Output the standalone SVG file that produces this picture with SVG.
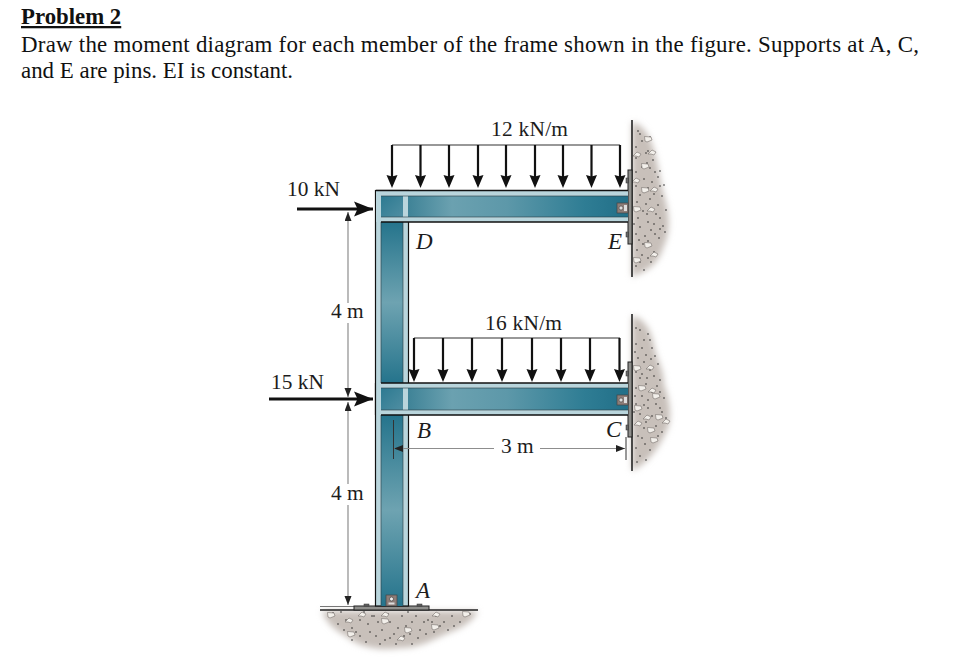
<svg xmlns="http://www.w3.org/2000/svg" width="960" height="670" viewBox="0 0 960 670">
<style>
text{font-family:"Liberation Serif","Times New Roman",serif;fill:#1c1c1c}
.body{font-size:22.9px;fill:#111}
.lab{font-size:21.4px}
.it{font-size:23px;font-style:italic}
.load{fill:none;stroke:#111;stroke-width:2.2}
.bar{fill:none;stroke:#333;stroke-width:1.2}
.dim{fill:none;stroke:#8d8d8d;stroke-width:1.2}
.tick{fill:none;stroke:#333;stroke-width:1}
.frame{fill:none;stroke:#111;stroke-width:1.6}
.soil{fill:#c8c0ba;filter:url(#soft)}
.dots{fill:none;stroke:#1d1d1d;stroke-width:1.5;stroke-linecap:round}
.peb{fill:#f2efea;stroke:#77716d;stroke-width:.6}
.plate{fill:#8f8f8c;stroke:#222;stroke-width:1}
.bolt{fill:#666;stroke:#333;stroke-width:.5}
.clip{fill:#8d7d78;stroke:#444;stroke-width:.7}
.wall{stroke:#222;stroke-width:1.6;fill:none}
</style>
<defs>
<filter id="soft" x="-20%" y="-20%" width="140%" height="140%"><feGaussianBlur stdDeviation="3"/></filter>
<linearGradient id="beam" x1="0" x2="1" y1="0" y2="0"><stop offset="0" stop-color="#3f8397"/><stop offset=".2" stop-color="#6ba1b0"/><stop offset=".45" stop-color="#5d98a9"/><stop offset=".8" stop-color="#2f7d94"/><stop offset="1" stop-color="#216f88"/></linearGradient>
<linearGradient id="colu" x1="0" x2="0" y1="0" y2="1"><stop offset="0" stop-color="#25748c"/><stop offset=".5" stop-color="#6ea3b1"/><stop offset="1" stop-color="#25748c"/></linearGradient>
<linearGradient id="joint" x1="0" x2="1" y1="0" y2="1"><stop offset="0" stop-color="#2d7a91"/><stop offset="1" stop-color="#4f8ea2"/></linearGradient>
<marker id="big" markerUnits="userSpaceOnUse" markerWidth="20" markerHeight="18" refX="19" refY="8" orient="auto"><path d="M0 0.500L19 8L0 15.500L3.500 8Z" fill="#111"/></marker>
<marker id="thin" markerUnits="userSpaceOnUse" markerWidth="10" markerHeight="8" refX="9" refY="3.500" orient="auto-start-reverse"><path d="M0 0L9 3.500L0 7Z" fill="#222"/></marker>
<path id="hd" d="M-5.500 -13L0 0L5.500 -13L0 -11.500Z" fill="#111"/>
<path id="pb" class="peb" d="M-3.500 -2.500L3 -2L4 1L-1 3L-3 2Z"/>
<path id="pc" class="peb" d="M-4 1L0 -3L4 -1L2 2L-1 1Z"/>
</defs>

<g id="title">
<text x="21" y="24" style="font-size:22.8px;font-weight:bold;fill:#111;text-decoration:underline">Problem 2</text>
<text class="body" x="21" y="52" textLength="898" lengthAdjust="spacing">Draw the moment diagram for each member of the frame shown in the figure. Supports at A, C,</text>
<text class="body" x="21" y="78">and E are pins. EI is constant.</text>
</g>

<g id="wall-E">
<path class="soil" d="M632 122C645 125 652 140 656 158C659 170 660 180 664 195C670 215 671 232 663 248C659 262 650 270 632 277Z"/>
<path class="dots" d="M638 131h0M640 134h0M650 137h0M648 151h0M646 153h0M636 158h0M653 160h0M647 163h0M642 167h0M650 168h0M636 172h0M655 172h0M658 177h0M644 179h0M660 171h0M652 182h0M636 186h0M648 188h0M660 186h0M640 195h0M654 194h0M664 185h0M637 202h0M646 204h0M658 205h0M662 196h0M643 211h0M652 210h0M666 210h0M638 218h0M660 218h0M648 222h0M654 224h0M640 227h0M663 226h0M665 232h0M636 234h0M645 236h0M655 234h0M643 244h0M650 246h0M659 238h0M637 250h0M654 252h0M648 258h0M640 262h0M636 266h0M644 270h0M651 262h0M642 141h0M636 147h0M644 192h0M650 199h0M635 208h0M647 214h0M656 214h0M634 224h0M651 230h0M660 229h0M639 240h0M648 241h0M642 255h0"/>
<use href="#pb" x="648" y="139"/><use href="#pc" x="637" y="155"/><use href="#pb" x="645" y="166"/><use href="#pc" x="652" y="153"/><use href="#pc" x="636" y="181"/><use href="#pb" x="645" y="190"/><use href="#pc" x="654" y="190"/><use href="#pb" x="637" y="209"/><use href="#pc" x="651" y="210"/><use href="#pb" x="648" y="245"/><use href="#pc" x="654" y="255"/><use href="#pb" x="637" y="260"/>
<line class="wall" x1="632" y1="120" x2="632" y2="277"/>
<rect class="plate" x="628" y="170" width="4" height="74"/>
<rect class="bolt" x="626" y="178" width="2.500" height="5"/><rect class="bolt" x="626" y="232" width="2.500" height="5"/>
</g>

<g id="wall-C">
<path class="soil" d="M632 316C645 318 652 332 655 350C658 362 664 370 664 385C670 400 673 420 666 432C660 445 650 462 632 471Z"/>
<path class="dots" d="M636 328h0M640 330h0M648 334h0M650 340h0M636 344h0M642 348h0M652 348h0M646 355h0M638 358h0M655 356h0M644 362h0M658 364h0M636 372h0M650 370h0M640 378h0M654 376h0M660 380h0M646 384h0M636 388h0M660 392h0M652 392h0M642 396h0M664 398h0M636 404h0M656 404h0M648 408h0M662 412h0M640 414h0M652 416h0M666 418h0M636 424h0M656 426h0M644 428h0M650 432h0M662 432h0M638 436h0M654 440h0M645 444h0M636 448h0M650 450h0M640 456h0M646 460h0M637 462h0M644 340h0M635 352h0M651 359h0M642 374h0M647 378h0M657 386h0M635 396h0M648 400h0M644 405h0M660 408h0M634 412h0M646 422h0M658 436h0M642 438h0"/>
<use href="#pb" x="637" y="368"/><use href="#pc" x="650" y="368"/><use href="#pb" x="642" y="388"/><use href="#pc" x="652" y="391"/><use href="#pb" x="656" y="396"/><use href="#pb" x="638" y="408"/><use href="#pc" x="647" y="418"/><use href="#pb" x="659" y="417"/><use href="#pc" x="666" y="422"/><use href="#pc" x="638" y="424"/><use href="#pb" x="651" y="430"/><use href="#pb" x="654" y="440"/>
<line class="wall" x1="632" y1="314" x2="632" y2="471"/>
<rect class="plate" x="628" y="362" width="4" height="75"/>
<rect class="bolt" x="626" y="371" width="2.500" height="5"/><rect class="bolt" x="626" y="425" width="2.500" height="5"/>
</g>

<g id="ground-A">
<path class="soil" d="M322 611L478 611C472 622 462 628 448 633C432 640 420 648 400 648C380 651 360 648 346 636C334 630 326 622 322 611Z"/>
<path class="dots" d="M333 613h0M341 612h0M346 620h0M338 624h0M352 628h0M360 620h0M368 624h0M374 616h0M382 630h0M390 622h0M398 628h0M402 616h0M412 622h0M420 630h0M428 620h0M436 616h0M444 622h0M452 616h0M460 622h0M448 630h0M434 632h0M418 638h0M404 636h0M390 638h0M376 636h0M360 636h0M366 642h0M352 640h0M380 644h0M396 644h0M412 644h0M424 622h0M364 612h0M388 614h0M408 612h0M470 614h0M344 630h0M370 632h0M378 622h0M394 634h0M406 626h0M416 616h0M426 634h0M440 626h0M454 626h0M385 640h0M356 632h0M372 616h0M432 622h0M410 634h0"/>
<use href="#pb" x="331" y="615"/><use href="#pc" x="362" y="615"/><use href="#pb" x="385" y="621"/><use href="#pc" x="349" y="621"/><use href="#pb" x="351" y="634"/><use href="#pc" x="385" y="615"/><use href="#pb" x="408" y="630"/><use href="#pc" x="436" y="615"/><use href="#pb" x="466" y="614"/><use href="#pc" x="401" y="639"/><use href="#pb" x="435" y="627"/>
<line x1="320" y1="610" x2="478" y2="610" stroke="#222" stroke-width="1.400"/>
<line x1="320" y1="606.500" x2="355" y2="606.500" stroke="#777" stroke-width="1"/>
<rect class="plate" x="354" y="606" width="75" height="4"/>
<rect class="bolt" x="364" y="604" width="5" height="2"/><rect class="bolt" x="417" y="604" width="5" height="2"/>
</g>

<g id="column">
<rect x="375.500" y="190.500" width="33" height="415.500" fill="#b9d5dc" stroke="#111" stroke-width="1.200"/>
<rect x="381" y="222" width="22" height="161" fill="url(#colu)"/>
<rect x="381" y="415" width="22" height="191" fill="url(#colu)"/>
<line x1="381" y1="191" x2="381" y2="606" stroke="#2a3a40" stroke-width=".6"/>
<line x1="403" y1="222" x2="403" y2="606" stroke="#2a3a40" stroke-width=".6"/>
<rect class="clip" x="386" y="595" width="11" height="11"/>
<circle cx="391.500" cy="599" r="2" fill="#eee" stroke="#333" stroke-width=".6"/>
<rect x="388.500" y="602.500" width="6" height="2" fill="#ddd"/>
</g>

<g id="beam-DE">
<rect x="376" y="190.500" width="252" height="31.500" fill="#b9d5dc"/>
<rect x="381" y="196" width="22" height="21" fill="url(#joint)"/>
<rect x="408" y="196" width="220" height="21" fill="url(#beam)"/>
<path class="frame" d="M376 190.500H628M381 222H628"/>
<line x1="381" y1="196" x2="628" y2="196" stroke="#2a3a40" stroke-width=".6"/>
<line x1="381" y1="217" x2="628" y2="217" stroke="#2a3a40" stroke-width=".6"/>
<rect class="clip" x="617" y="203" width="11" height="10"/>
<circle cx="621" cy="208" r="2" fill="#ddd" stroke="#333" stroke-width=".5"/>
<rect x="624" y="205" width="3" height="6" fill="#ddd"/>
</g>

<g id="beam-BC">
<rect x="376" y="383" width="252" height="32" fill="#b9d5dc"/>
<rect x="381" y="388" width="22" height="22" fill="url(#joint)"/>
<rect x="408" y="388" width="220" height="22" fill="url(#beam)"/>
<path class="frame" d="M381 383H628M381 415H628"/>
<line x1="381" y1="388" x2="628" y2="388" stroke="#2a3a40" stroke-width=".6"/>
<line x1="381" y1="410" x2="628" y2="410" stroke="#2a3a40" stroke-width=".6"/>
<rect class="clip" x="617" y="395" width="11" height="10"/>
<circle cx="621" cy="400" r="2" fill="#ddd" stroke="#333" stroke-width=".5"/>
<rect x="624" y="397" width="3" height="6" fill="#ddd"/>
<line x1="375.500" y1="383" x2="375.500" y2="415" stroke="#111" stroke-width="1.200"/>
</g>

<g id="connectors">
<g id="load-12">
<path class="bar" d="M392 145H620"/>
<path class="load" d="M392 145V178M420.500 145V178M449 145V178M478 145V178M506 145V178M535 145V178M563 145V178M591.500 145V178M620 145V178"/>
<use href="#hd" x="392" y="188"/><use href="#hd" x="420.500" y="188"/><use href="#hd" x="449" y="188"/><use href="#hd" x="478" y="188"/><use href="#hd" x="506" y="188"/><use href="#hd" x="535" y="188"/><use href="#hd" x="563" y="188"/><use href="#hd" x="591.500" y="188"/><use href="#hd" x="620" y="188"/>
</g>
<g id="load-16">
<path class="bar" d="M414 338H620"/>
<path class="load" d="M414 338V372M443 338V372M472 338V372M502 338V372M532 338V372M561 338V372M590 338V372M619.500 338V372"/>
<use href="#hd" x="414" y="382"/><use href="#hd" x="443" y="382"/><use href="#hd" x="472" y="382"/><use href="#hd" x="502" y="382"/><use href="#hd" x="532" y="382"/><use href="#hd" x="561" y="382"/><use href="#hd" x="590" y="382"/><use href="#hd" x="619.500" y="382"/>
</g>
<line x1="297" y1="209" x2="373" y2="209" stroke="#111" stroke-width="3.200" marker-end="url(#big)"/>
<line x1="269" y1="399" x2="373" y2="399" stroke="#111" stroke-width="3.200" marker-end="url(#big)"/>
<line class="dim" x1="348" y1="303" x2="348" y2="212" marker-end="url(#thin)"/>
<line class="dim" x1="348" y1="323" x2="348" y2="397" marker-end="url(#thin)"/>
<line class="dim" x1="348" y1="484" x2="348" y2="402" marker-end="url(#thin)"/>
<line class="dim" x1="348" y1="505" x2="348" y2="605" marker-end="url(#thin)"/>
<line class="dim" x1="494" y1="448.500" x2="394" y2="448.500" marker-end="url(#thin)"/>
<line class="dim" x1="540" y1="448.500" x2="625" y2="448.500" marker-end="url(#thin)"/>
<line class="tick" x1="393.500" y1="420" x2="393.500" y2="459"/>
<line class="tick" x1="626" y1="437" x2="626" y2="460"/>
</g>

<g id="labels">
<text class="lab" x="287" y="196">10 kN</text>
<text class="lab" x="271" y="389">15 kN</text>
<text class="lab" x="331" y="318">4 m</text>
<text class="lab" x="331" y="500">4 m</text>
<text class="lab" x="491" y="136" textLength="77">12 kN/m</text>
<text class="lab" x="485" y="330" textLength="77">16 kN/m</text>
<text class="lab" x="501" y="453">3 m</text>
<text class="it" x="416" y="249">D</text>
<text class="it" x="608" y="249">E</text>
<text class="it" x="417" y="438">B</text>
<text class="it" x="606" y="437">C</text>
<text class="it" x="416" y="598">A</text>
</g>
</svg>
